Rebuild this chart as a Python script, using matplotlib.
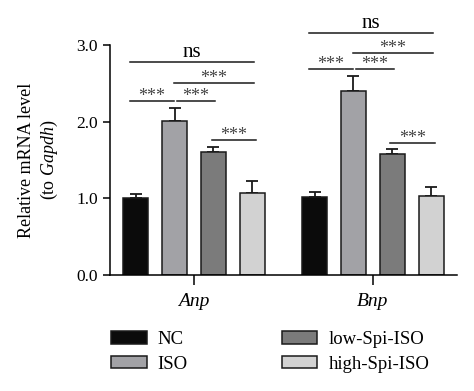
import numpy as np
import matplotlib
matplotlib.use('Agg')
import matplotlib.pyplot as plt
from matplotlib.patches import Patch

plt.rcParams['font.family'] = ['Liberation Serif', 'DejaVu Serif']
plt.rcParams['mathtext.fontset'] = 'custom'
plt.rcParams['mathtext.it'] = 'Liberation Serif:italic'
plt.rcParams['mathtext.rm'] = 'Liberation Serif'

# ---------------- data ----------------
genes = ['Anp', 'Bnp']
groups = ['NC', 'ISO', 'low-Spi-ISO', 'high-Spi-ISO']
means = {'NC': [1.00, 1.01],
         'ISO': [2.01, 2.40],
         'low-Spi-ISO': [1.60, 1.58],
         'high-Spi-ISO': [1.065, 1.03]}
errs = {'NC': [0.05, 0.07],
        'ISO': [0.17, 0.19],
        'low-Spi-ISO': [0.07, 0.06],
        'high-Spi-ISO': [0.165, 0.12]}
bar_colors = ['#0b0b0b', '#a2a2a6', '#7b7b7b', '#d2d2d2']

# significance brackets: (gene index, group from, group to, height, label)
sig_lines = [(0, 0, 3, 2.78, 'ns'),
             (0, 1, 3, 2.51, '***'),
             (0, 0, 1, 2.27, '***'),
             (0, 1, 2, 2.27, '***'),
             (0, 2, 3, 1.76, '***'),
             (1, 0, 3, 3.16, 'ns'),
             (1, 1, 3, 2.90, '***'),
             (1, 0, 1, 2.68, '***'),
             (1, 1, 2, 2.68, '***'),
             (1, 2, 3, 1.72, '***')]

# ---------------- plot ----------------
fig = plt.figure(figsize=(4.74, 3.91), dpi=100)
ax = fig.add_axes([0.232, 0.297, 0.732, 0.588])

x = np.arange(len(genes))
step = 0.217
width = 0.14
offsets = (np.arange(len(groups)) - 1.5) * step

for i, g in enumerate(groups):
    ax.bar(x + offsets[i], means[g], width, color=bar_colors[i],
           edgecolor='#1a1a1a', linewidth=1.1, zorder=2)
    ax.errorbar(x + offsets[i], means[g], yerr=[np.zeros(len(genes)), errs[g]],
                fmt='none', ecolor='#1a1a1a', elinewidth=1.3, capsize=4.5,
                capthick=1.3, zorder=1)

for gi, a, b, h, lab in sig_lines:
    x0 = x[gi] + offsets[a] - 0.03
    x1 = x[gi] + offsets[b] + 0.01
    if a == 0 and b == 1:
        x1 = x[gi] + offsets[b] - 0.005
    if a == 1 and b == 2:
        x0 = x[gi] + offsets[a] + 0.012
    if a == 1 and b == 3:
        x0 = x[gi] + offsets[a] - 0.005
    if a == 2 and b == 3:
        x0 = x[gi] + offsets[a] - 0.01
        x1 = x[gi] + offsets[b] + 0.02
    ax.plot([x0, x1], [h, h], color='#1a1a1a', lw=1.1, clip_on=False)
    if lab == 'ns':
        ax.text((x0 + x1) / 2, h + 0.06, lab, ha='center', va='baseline',
                fontsize=15, clip_on=False)
    else:
        ax.text((x0 + x1) / 2, h + 0.0, lab, ha='center', va='baseline',
                fontsize=13, color='#444444', clip_on=False)

ax.set_xlim(-0.47, 1.47)
ax.set_ylim(0, 3.0)
ax.set_yticks([0, 1, 2, 3])
ax.set_yticklabels(['0.0', '1.0', '2.0', '3.0'], fontsize=12.5)
ax.set_xticks(x)
ax.set_xticklabels(genes, fontsize=14, style='italic')
ax.tick_params(axis='x', length=7, width=1.1, pad=6)
ax.tick_params(axis='y', length=5, width=1.1)
ax.spines['top'].set_visible(False)
ax.spines['right'].set_visible(False)
ax.spines['left'].set_linewidth(1.1)
ax.spines['bottom'].set_linewidth(1.1)
ax.set_ylabel('Relative mRNA level\n(to $\\mathit{Gapdh}$)', fontsize=13,
              linespacing=1.25, labelpad=12)

handles = [Patch(facecolor=bar_colors[i], edgecolor='#1a1a1a', linewidth=1.1)
           for i in range(len(groups))]
fig.legend(handles, groups, loc='center left', bbox_to_anchor=(0.234, 0.0997),
           ncol=2, frameon=False, fontsize=13.5, handlelength=1.9,
           handleheight=0.64, columnspacing=5.0, labelspacing=0.4,
           handletextpad=0.6, borderpad=0, borderaxespad=0)

fig.savefig('out.png', dpi=100)
